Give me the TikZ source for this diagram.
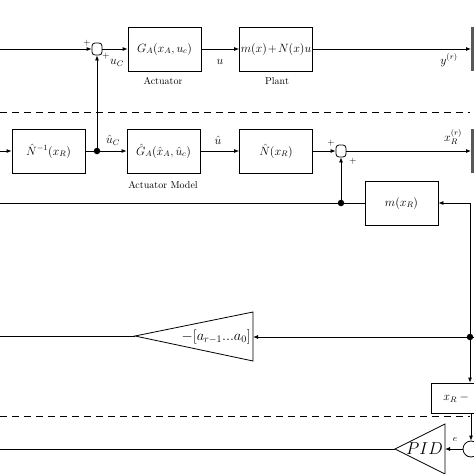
\documentclass[tikz,border=0pt]{standalone}
\usetikzlibrary{arrows.meta}
\newlength{\du}
\setlength{\du}{1pt}
\tikzset{
  blk/.style={draw, line width=0.8\du, minimum width=73\du, minimum height=44\du, inner sep=1\du, font=\large},
  sumj/.style={draw, line width=0.8\du, rounded corners=3\du, minimum width=10\du, minimum height=12\du, inner sep=0pt},
  jdot/.style={circle, fill, inner sep=0pt, minimum size=6.5\du},
  sig/.style={line width=0.8\du, -{Latex[length=5pt,width=4pt]}},
  wire/.style={line width=0.8\du},
  sep/.style={line width=0.8\du, dash pattern=on 7pt off 5pt},
  bar/.style={fill=black!65, draw=none},
  lbl/.style={inner sep=1\du, font=\large},
  blkname/.style={inner sep=1\du},
  pm/.style={inner sep=0pt, font=\small}
}

\begin{document}
\begin{tikzpicture}
  \pgftransformxscale{1.000000}
  \pgftransformyscale{-1.000000}
  \useasboundingbox (0\du,0\du) rectangle (474\du,474\du);
  \clip (0\du,0\du) rectangle (474\du,474\du);
  % plant row
  \coordinate (in1) at (0\du,49\du);
  \node[sumj] (s1) at (97\du,49\du) {};
  \node[blk] (ga) at (164.5\du,49\du) {$G_A(x_A,u_c)$};
  \node[blk, inner sep=0pt] (plant) at (276\du,49\du) {\medmuskip=1.5mu$m(x)+N(x)u$};
  \fill[bar] (471\du,27\du) rectangle (476\du,71\du);
  \coordinate (y1) at (471\du,49\du);
  \draw[sig] (in1)--(s1);
  \draw[sig] (s1)--(ga);
  \draw[sig] (ga)--(plant);
  \draw[sig] (plant)--(y1);
  \node[pm] at (87\du,43\du) {$+$};
  \node[pm] at (106\du,56\du) {$+$};
  \node[lbl] at (117\du,63\du) {$u_C$};
  \node[lbl] at (220\du,62\du) {$u$};
  \node[lbl] at (449\du,60\du) {$y^{(r)}$};
  \node[blkname] at (163\du,81\du) {Actuator};
  \node[blkname] at (277\du,81\du) {Plant};
  \draw[sep] (0\du,112\du)--(470\du,112\du);
  % model row
  \coordinate (in2) at (0\du,151\du);
  \node[blk] (ninv) at (48.5\du,151\du) {$\hat{N}^{-1}(x_R)$};
  \node[jdot] (d1) at (97\du,151\du) {};
  \node[blk] (gah) at (163.5\du,151\du) {$\hat{G}_A(\hat{x}_A,\hat{u}_c)$};
  \node[blk] (nh) at (276\du,151\du) {$\hat{N}(x_R)$};
  \node[sumj] (s2) at (341\du,151\du) {};
  \fill[bar] (471\du,129\du) rectangle (476\du,173\du);
  \coordinate (y2) at (471\du,151\du);
  \draw[sig] (in2)--(ninv);
  \draw[sig] (ninv)--(gah);
  \draw[sig] (d1)--(s1);
  \draw[sig] (gah)--(nh);
  \draw[sig] (nh)--(s2);
  \draw[sig] (s2)--(y2);
  \node[lbl] at (113\du,140\du) {$\hat{u}_C$};
  \node[lbl] at (218\du,140\du) {$\hat{u}$};
  \node[pm] at (331\du,143\du) {$+$};
  \node[pm] at (353\du,161\du) {$+$};
  \node[lbl] at (453\du,137\du) {$x_R^{(r)}$};
  \node[blkname] at (163\du,185\du) {Actuator Model};
  % feedback of the model
  \node[blk] (mx) at (401.5\du,203\du) {$m(x_R)$};
  \node[jdot] (d2) at (341\du,203\du) {};
  \coordinate (c1) at (470\du,203\du);
  \coordinate (out2) at (0\du,203\du);
  \draw[wire] (mx)--(d2)--(out2);
  \draw[sig] (d2)--(s2);
  \draw[sig] (c1)--(mx);
  % state feedback gain
  \node[jdot] (d3) at (470\du,337\du) {};
  \coordinate (rin) at (476\du,337\du);
  \coordinate (gin) at (253\du,337\du);
  \coordinate (gtip) at (135\du,336\du);
  \draw[wire] (gtip)--(253\du,312\du)--(253\du,361\du)--cycle;
  \node[anchor=east, inner sep=1\du, font=\Large] (gain) at (252\du,337\du) {$-[a_{r-1}...a_0]$};
  \coordinate (out3) at (0\du,336\du);
  \draw[wire] (rin)--(d3)--(c1);
  \draw[sig] (d3)--(gin);
  \draw[wire] (gtip)--(out3);
  % error and PID
  \node[draw, line width=0.8\du, anchor=west, minimum height=30\du, inner xsep=12\du, text width=60\du, align=left, font=\large] (xr) at (431\du,398\du) {$x_R -{}$};
  \draw[sig] (d3)--(d3 |- xr.north);
  \draw[sep] (0\du,416\du)--(470\du,416\du);
  \node[draw, line width=0.8\du, circle, minimum size=16\du, inner sep=0pt] (ce) at (471\du,449\du) {};
  \draw[sig] (ce.north |- xr.south)--(ce.north);
  \coordinate (pin) at (445\du,449\du);
  \coordinate (ptip) at (395\du,449\du);
  \draw[wire] (ptip)--(445\du,424\du)--(445\du,474\du)--cycle;
  \node[anchor=east, inner sep=1\du, font=\fontsize{16}{18}\selectfont] (pid) at (444\du,449\du) {$PID$};
  \draw[sig] (ce)--(pin);
  \node[lbl, font=\small] at (455\du,440\du) {$e$};
  \coordinate (out4) at (0\du,449\du);
  \draw[wire] (ptip)--(out4);
\end{tikzpicture}
\end{document}
